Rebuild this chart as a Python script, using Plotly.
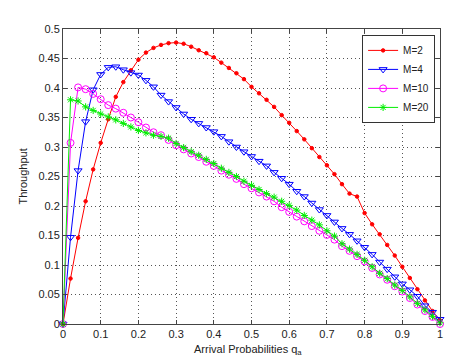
import plotly.graph_objects as go

q = [round(i * 0.02, 2) for i in range(51)]

m2 = [0, .077, .146, .208, .262, .307, .347, .385, .410, .430, .448, .460, .468, .473, .476, .477,
      .475, .470, .464, .459, .452, .443, .434, .425, .415, .402, .391, .380, .368, .354, .341,
      .327, .313, .298, .283, .269, .254, .237, .221, .216, .188, .169, .152, .134, .116, .097,
      .078, .059, .040, .022, .006]

m4 = [0, .147, .260, .343, .397, .423, .435, .436, .431, .426, .422, .413, .402, .388, .377, .367,
      .356, .347, .340, .333, .326, .318, .309, .300, .292, .284, .276, .268, .257, .247, .237,
      .225, .216, .205, .194, .184, .173, .162, .152, .141, .130, .118, .105, .093, .080, .068,
      .058, .047, .031, .020, .008]

m10 = [0, .307, .401, .398, .390, .381, .371, .365, .358, .350, .342, .333, .325, .320, .312, .303,
       .296, .289, .283, .275, .268, .260, .253, .246, .237, .230, .223, .216, .208, .198, .190,
       .182, .174, .166, .158, .151, .143, .132, .124, .115, .106, .095, .084, .075, .064, .055,
       .044, .033, .022, .012, 0]

m20 = [0, .380, .378, .368, .362, .356, .351, .346, .340, .334, .328, .324, .320, .318, .315, .306,
       .299, .292, .286, .279, .272, .264, .257, .250, .242, .235, .228, .221, .215, .208, .201,
       .193, .184, .176, .168, .158, .149, .136, .127, .118, .108, .097, .086, .077, .066, .057,
       .046, .035, .024, .013, .002]

names = ["M=2", "M=4", "M=10", "M=20"]
colors = ["#ff0000", "#0000ff", "#ff00ff", "#00ee00"]
symbols = ["circle", "triangle-down-open", "circle-open", "asterisk-open"]
sizes = [3.5, 7, 7, 6]

x_ticks = [round(i * 0.1, 1) for i in range(11)]
y_ticks = [round(i * 0.05, 2) for i in range(11)]

fig = go.Figure()
for name, ys, c, s, sz in zip(names, [m2, m4, m10, m20], colors, symbols, sizes):
    fig.add_trace(go.Scatter(
        x=q, y=ys, mode="lines+markers", name=name,
        line=dict(color=c, width=1),
        marker=dict(symbol=s, size=sz, color=c, line=dict(color=c, width=1)),
        cliponaxis=False,
    ))

font = "Liberation Sans, Arial, sans-serif"
fig.update_layout(
    width=466, height=356,
    margin=dict(l=55, r=34, t=21, b=40, autoexpand=False),
    paper_bgcolor="white", plot_bgcolor="white",
    font=dict(family=font, size=11, color="#222"),
    showlegend=True,
    legend=dict(
        x=0.987, y=0.98, xanchor="right", yanchor="top",
        bgcolor="white", bordercolor="#333", borderwidth=1,
        font=dict(size=10, color="#222"),
        tracegroupgap=0, itemwidth=30,
    ),
    xaxis=dict(
        range=[0, 1], tickvals=x_ticks, ticktext=[f"{v:g}" for v in x_ticks],
        showgrid=True, gridcolor="#555", griddash="1px,3px", gridwidth=1,
        showline=True, linecolor="#444", linewidth=1, mirror="ticks",
        ticks="inside", ticklen=4, tickcolor="#444",
        zeroline=False, automargin=False,
    ),
    yaxis=dict(
        range=[0, 0.5], tickvals=y_ticks, ticktext=[f"{v:g}" for v in y_ticks],
        showgrid=True, gridcolor="#555", griddash="1px,3px", gridwidth=1,
        showline=True, linecolor="#444", linewidth=1, mirror="ticks",
        ticks="inside", ticklen=4, tickcolor="#444",
        zeroline=False, automargin=False,
    ),
    annotations=[
        dict(text="Arrival Probabilities q<sub>a</sub>", xref="paper", yref="paper",
             x=0.49, y=0, yshift=-17, xanchor="center", yanchor="top",
             showarrow=False, font=dict(size=11, color="#222")),
        dict(text="Throughput", xref="paper", yref="paper", textangle=-90,
             x=0, xshift=-41, y=0.5, xanchor="center", yanchor="middle",
             showarrow=False, font=dict(size=11, color="#222")),
    ],
)

fig.write_html("out.html")
